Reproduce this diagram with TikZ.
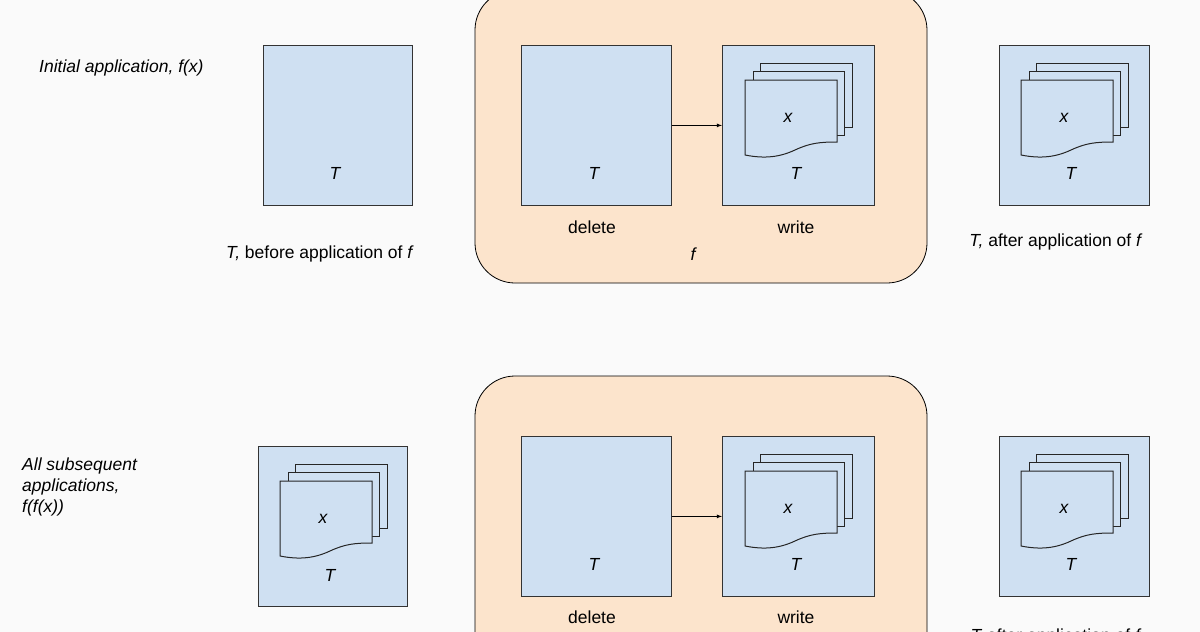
\documentclass[tikz,border=0pt]{standalone}
\usepackage{fontspec}
\setmainfont{Liberation Sans}
\definecolor{boxblue}{RGB}{207,224,242}
\definecolor{panelor}{RGB}{252,228,204}
\begin{document}
\begin{tikzpicture}[x=1pt,y=-1pt,
  panel/.style={draw=black,fill=panelor,rounded corners=40pt,line width=0.8pt},
  box/.style={draw=black!80,fill=boxblue,line width=0.8pt},
  lbl/.style={font=\fontsize{17.5}{21}\selectfont,inner sep=0pt},
  il/.style={font=\fontsize{17.5}{21}\selectfont\itshape,inner sep=0pt},
  arr/.style={-latex,line width=0.8pt},
  pg/.style={draw=black!85,fill=boxblue,line width=1pt},
  stack/.pic={
    \draw[pg] (15,-17) rectangle (107,47);
    \draw[pg] (8,-9) rectangle (99,55);
    \draw[pg] (0,75) -- (0,0) -- (92,0) -- (92,62) .. controls (75,62) and (65,63) .. (50,70) .. controls (35,77) and (20,79) .. (0,75) -- cycle;
    \node[il] at (43,38) {x};
  }]
\useasboundingbox (0,0) rectangle (1200,632);
\fill[white!98!black] (0,0) rectangle (1200,632);
% top row
\draw[panel] (475,-10) rectangle (927,283);
\node[box,minimum width=149pt,minimum height=160pt,anchor=north west] (t0) at (263,45) {};
\node[box,minimum width=150pt,minimum height=160pt,anchor=north west] (d1) at (521,45) {};
\node[box,minimum width=152pt,minimum height=160pt,anchor=north west] (w1) at (722,45) {};
\node[box,minimum width=150pt,minimum height=160pt,anchor=north west] (r1) at (999,45) {};
\draw[arr] (d1.east) -- (w1.west);
\pic at (745,80) {stack};
\pic at (1021,80) {stack};
\node[il,anchor=west] (it) at (39,68) {Initial application, f(x)};
\node[il] (tt0) at (335,173) {T};
\node[il] (td1) at (594,173) {T};
\node[il] (tw1) at (796,173) {T};
\node[il] (tr1) at (1071,173) {T};
\node[lbl] (l0) at (320,254) {\textit{T,} before application of \textit{f}};
\node[lbl] (dl1) at (592,227) {delete};
\node[lbl] (wl1) at (796,227) {write};
\node[il] (f1) at (693,254) {f};
\node[lbl] (r1l) at (1056,242) {\textit{T,} after application of \textit{f}};
% bottom row
\draw[panel] (475,376) rectangle (927,680);
\node[box,minimum width=149pt,minimum height=160pt,anchor=north west] (b0) at (258,446) {};
\node[box,minimum width=150pt,minimum height=160pt,anchor=north west] (d2) at (521,436) {};
\node[box,minimum width=152pt,minimum height=160pt,anchor=north west] (w2) at (722,436) {};
\node[box,minimum width=150pt,minimum height=160pt,anchor=north west] (r2) at (999,436) {};
\draw[arr] (d2.east) -- (w2.west);
\pic at (280,481) {stack};
\pic at (745,471) {stack};
\pic at (1021,471) {stack};
\node[il,align=left,anchor=north west] (sub) at (22,458) {All subsequent\\applications,\\f(f(x))};
\node[il] (tb0) at (330,575) {T};
\node[il] (td2) at (594,564) {T};
\node[il] (tw2) at (796,564) {T};
\node[il] (tr2) at (1071,564) {T};
\node[lbl] (dl2) at (592,617) {delete};
\node[lbl] (wl2) at (796,617) {write};
\node[lbl] (r2l) at (1056,637) {\textit{T} after application of \textit{f}};
\end{tikzpicture}
\end{document}
